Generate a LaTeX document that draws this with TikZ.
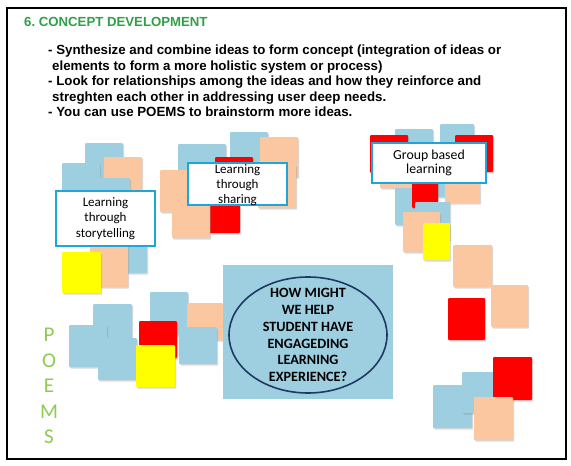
\documentclass[tikz,border=0pt]{standalone}
\usepackage{fontspec}
\setmainfont{Liberation Sans}
\newfontfamily\calibri{Carlito}
\usetikzlibrary{shadows, shapes.geometric}
\frenchspacing

\definecolor{noteblue}{RGB}{158,207,224}
\definecolor{notepeach}{RGB}{250,199,160}
\definecolor{notered}{RGB}{255,0,0}
\definecolor{noteyellow}{RGB}{255,255,0}
\definecolor{titlegreen}{RGB}{46,160,70}
\definecolor{poemsgreen}{RGB}{140,205,80}
\definecolor{labelcyan}{RGB}{30,165,218}
\definecolor{ovalnavy}{RGB}{31,56,100}

\tikzset{
  note/.style={rounded corners=1pt,
    drop shadow={opacity=0.3, shadow xshift=1.2pt, shadow yshift=-1.6pt}},
  blue/.style={note, fill=noteblue},
  peach/.style={note, fill=notepeach},
  red/.style={note, fill=notered},
  yellow/.style={note, fill=noteyellow},
  labelbox/.style={draw=labelcyan, line width=2pt, fill=white, inner sep=0pt},
  labeltext/.style={font=\calibri\fontsize{13}{15.5}\selectfont, align=center, inner sep=0pt},
  bullet/.style={anchor=base west, inner sep=0pt, font=\bfseries\fontsize{13.3}{15}\selectfont}
}

\begin{document}
\begin{tikzpicture}[x=1pt, y=-1pt]
\useasboundingbox (0,0) rectangle (571,466);
\fill[white] (0,0) rectangle (571,466);
\draw[line width=2pt] (7,8) rectangle (566,459);

% heading and notes
\node[anchor=base west, inner sep=0pt, text=titlegreen,
  font=\bfseries\fontsize{13.2}{15}\selectfont] (title) at (24,26.5) {6. CONCEPT DEVELOPMENT};
\node[bullet] (line1) at (48,54.5) {- Synthesize and combine ideas to form concept (integration of ideas or};
\node[bullet] (line2) at (52,70) {elements to form a more holistic system or process)};
\node[bullet] (line3) at (48,85.5) {- Look for relationships among the ideas and how they reinforce and};
\node[bullet] (line4) at (52,101) {streghten each other in addressing user deep needs.};
\node[bullet] (line5) at (48,116.5) {- You can use POEMS to brainstorm more ideas.};

% storytelling cluster
\fill[blue] (85,143) rectangle (123,183);
\fill[peach] (104,157) rectangle (142,197);
\fill[blue] (62,163) rectangle (100,205);
\fill[blue] (92,178) rectangle (130,220);
\fill[blue] (109,233) rectangle (147,273);
\fill[peach] (90,245) rectangle (128,287);
\fill[yellow] (62,252) rectangle (101,293);
\node[labelbox, minimum width=99pt, minimum height=55pt] (story) at (105.5,218.5) {};
\node[labeltext] at (story.center) {Learning\\through\\storytelling};

% sharing cluster
\fill[blue] (178,144) rectangle (226,185);
\fill[blue] (230,132) rectangle (268,172);
\fill[red] (215,157) rectangle (253,197);
\fill[peach] (260,137) rectangle (298,177);
\fill[peach] (258,165) rectangle (296,208);
\fill[peach] (160,170) rectangle (198,212);
\fill[red] (204,195) rectangle (240,233);
\fill[peach] (172,198) rectangle (210,238);
\node[labelbox, minimum width=99pt, minimum height=42pt] (sharing) at (237.5,184) {};
\node[labeltext, font=\calibri\fontsize{13}{15}\selectfont] at ([yshift=-1pt]sharing.center) {Learning\\through\\sharing};

% group cluster
\fill[blue] (395,129) rectangle (433,169);
\fill[blue] (440,124) rectangle (474,164);
\fill[red] (370,135) rectangle (408,173);
\fill[red] (455,135) rectangle (493,172);
\fill[peach] (380,165) rectangle (418,188);
\fill[blue] (418,160) rectangle (453,197);
\fill[peach] (445,165) rectangle (480,203);
\fill[blue] (395,188) rectangle (430,225);
\fill[red] (412,170) rectangle (438,208);
\fill[blue] (415,202) rectangle (450,240);
\fill[peach] (403,212) rectangle (440,252);
\fill[yellow] (423,223) rectangle (450,260);
\node[labelbox, minimum width=114pt, minimum height=40pt] (group) at (429,163) {};
\node[labeltext, font=\calibri\fontsize{13.8}{13.5}\selectfont] at (group.center) {Group based\\learning};

% right side notes
\fill[peach] (453,245) rectangle (492,287);
\fill[peach] (491,285) rectangle (528,327);
\fill[red] (448,298) rectangle (485,340);
\fill[blue] (433,385) rectangle (472,428);
\fill[blue] (462,372) rectangle (498,413);
\fill[red] (493,357) rectangle (532,400);
\fill[peach] (474,397) rectangle (513,440);

% lower left cluster
\fill[blue] (150,292) rectangle (188,335);
\fill[peach] (187,303) rectangle (223,340);
\fill[blue] (93,304) rectangle (132,345);
\fill[blue] (69,325) rectangle (107,367);
\fill[blue] (98,338) rectangle (137,380);
\fill[red] (139,321) rectangle (177,358);
\fill[blue] (179,327) rectangle (217,364);
\fill[yellow] (136,345) rectangle (175,387);

% question
\node[fill=noteblue, minimum width=170pt, minimum height=134pt, inner sep=0pt] (hmw) at (308,332) {};
\node[ellipse, draw=ovalnavy, line width=1.6pt, minimum width=158pt, minimum height=116pt] (oval) at (308,335) {};
\node[align=center, inner sep=0pt, font=\calibri\bfseries\fontsize{14.2}{16.9}\selectfont] (question) at (oval.center)
  {HOW MIGHT\\WE HELP\\STUDENT HAVE\\ENGAGEDING\\LEARNING\\EXPERIENCE?};

\node[align=center, inner sep=0pt, text=poemsgreen, font=\calibri\fontsize{21}{25.5}\selectfont] (poems) at (49,386)
  {P\\O\\E\\M\\S};
\end{tikzpicture}
\end{document}
